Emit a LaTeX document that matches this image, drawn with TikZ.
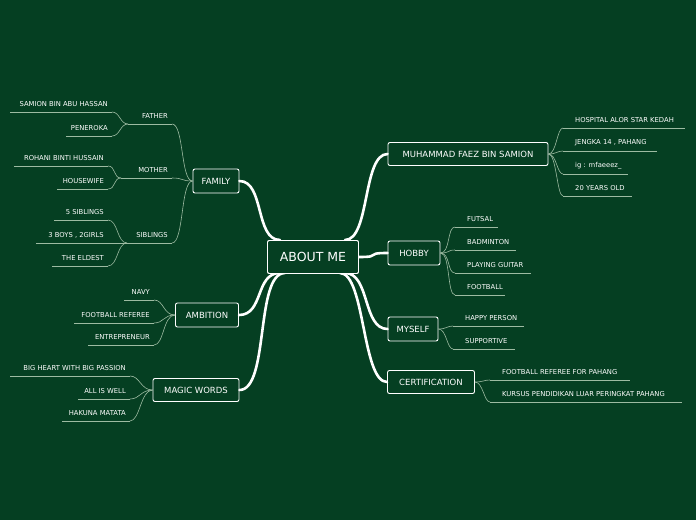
\documentclass[tikz,border=0pt]{standalone}
\usepackage{fontspec}
\setmainfont{DejaVu Sans}
\definecolor{bg}{HTML}{053F22}
\definecolor{ln}{HTML}{9DBBA2}
\begin{document}
\begin{tikzpicture}[x=1pt,y=-1pt,
  topic/.style={draw=white,fill=bg,rounded corners=2pt,text=white,font=\fontsize{8.5}{9}\selectfont,inner sep=0pt,line width=0.9pt},
  leaft/.style={text=white,font=\fontsize{6.8}{7}\selectfont,inner sep=0pt},
  thin/.style={draw=ln,line width=0.6pt},
  thick/.style={draw=white,line width=2.6pt,line cap=round}]
\fill[bg] (0,0) rectangle (696,520);
\useasboundingbox (0,0) rectangle (696,520);
\newcommand\rleaf[5]{\coordinate (#1s) at (#2,#4); \coordinate (#1e) at (#3,#4);
  \draw[thin] (#1s)--(#1e); \node[leaft,anchor=west] (#1) at (#2+12,#4-8) {#5};}
\newcommand\lleaf[5]{\coordinate (#1s) at (#2,#4); \coordinate (#1e) at (#3,#4);
  \draw[thin] (#1s)--(#1e); \node[leaft,anchor=east] (#1) at (#3-4,#4-8) {#5};}
\node[topic,minimum width=91pt,minimum height=33pt,font=\fontsize{12.5}{13}\selectfont] (c) at (313,257) {ABOUT ME};
\node[topic,minimum width=160pt,minimum height=23pt] (m) at (468,154) {MUHAMMAD FAEZ BIN SAMION};
\node[topic,minimum width=52pt,minimum height=24pt] (h) at (414,253) {HOBBY};
\node[topic,minimum width=50pt,minimum height=24pt] (my) at (413,329) {MYSELF};
\node[topic,minimum width=87pt,minimum height=23pt] (ce) at (431,382) {CERTIFICATION};
\node[topic,minimum width=46pt,minimum height=24pt] (f) at (216,181) {FAMILY};
\node[topic,minimum width=63pt,minimum height=24pt] (a) at (207,315) {AMBITION};
\node[topic,minimum width=86pt,minimum height=23pt] (mw) at (196,390) {MAGIC WORDS};
\foreach \t/\sx/\sy in {m/345/240,h/359/257,my/345/273,ce/340/273}{
  \draw[thick] (\sx,\sy) .. controls +(25,0) and +(-25,0) .. (\t.west);}
\draw[thick] (280,240) .. controls +(-25,0) and +(25,0) .. (f.east);
\draw[thick] (280,273) .. controls +(-25,0) and +(25,0) .. (a.east);
\draw[thick] (285,273) .. controls +(-30,0) and +(30,0) .. (mw.east);
\node[topic,minimum width=91pt,minimum height=33pt,font=\fontsize{12.5}{13}\selectfont] at (313,257) {ABOUT ME};
\rleaf{m1}{563}{685}{128}{HOSPITAL ALOR STAR KEDAH}
\rleaf{m2}{563}{657}{151}{JENGKA 14 , PAHANG}
\rleaf{m3}{563}{628}{174}{ig : mfaeeez\_}
\rleaf{m4}{563}{632}{196}{20 YEARS OLD}
\foreach \i in {1,...,4}{\draw[thin] (m.east) .. controls +(8,0) and +(-6,0) .. (m\i s);}
\rleaf{h1}{455}{498}{227}{FUTSAL}
\rleaf{h2}{455}{516}{250}{BADMINTON}
\rleaf{h3}{455}{531}{273}{PLAYING GUITAR}
\rleaf{h4}{455}{505}{295}{FOOTBALL}
\foreach \i in {1,...,4}{\draw[thin] (h.east) .. controls +(10,0) and +(-8,0) .. (h\i s);}
\rleaf{y1}{453}{524}{326}{HAPPY PERSON}
\rleaf{y2}{453}{515}{349}{SUPPORTIVE}
\foreach \i in {1,2}{\draw[thin] (my.east) .. controls +(8,0) and +(-6,0) .. (y\i s);}
\rleaf{c1}{490}{630}{380}{FOOTBALL REFEREE FOR PAHANG}
\rleaf{c2}{490}{682}{402}{KURSUS PENDIDIKAN LUAR PERINGKAT PAHANG}
\foreach \i in {1,2}{\draw[thin] (ce.east) .. controls +(8,0) and +(-6,0) .. (c\i s);}
\lleaf{fa}{128}{172}{124}{FATHER}
\lleaf{mo}{121}{172}{178}{MOTHER}
\lleaf{si}{127}{172}{243}{SIBLINGS}
\foreach \i in {fa,mo,si}{\draw[thin] (f.west) .. controls +(-12,0) and +(12,0) .. (\i e);}
\lleaf{fa1}{10}{112}{112}{SAMION BIN ABU HASSAN}
\lleaf{fa2}{66}{112}{136}{PENEROKA}
\foreach \i in {fa1,fa2}{\draw[thin] (fas) .. controls +(-8,0) and +(8,0) .. (\i e);}
\lleaf{mo1}{14}{108}{166}{ROHANI BINTI HUSSAIN}
\lleaf{mo2}{57}{108}{189}{HOUSEWIFE}
\foreach \i in {mo1,mo2}{\draw[thin] (mos) .. controls +(-8,0) and +(8,0) .. (\i e);}
\lleaf{si1}{54}{108}{220}{5 SIBLINGS}
\lleaf{si2}{36}{108}{243}{3 BOYS , 2GIRLS}
\lleaf{si3}{52}{108}{266}{THE ELDEST}
\foreach \i in {si1,si2,si3}{\draw[thin] (sis) .. controls +(-10,0) and +(10,0) .. (\i e);}
\lleaf{a1}{124}{154}{300}{NAVY}
\lleaf{a2}{74}{154}{323}{FOOTBALL REFEREE}
\lleaf{a3}{88}{154}{345}{ENTREPRENEUR}
\foreach \i in {1,2,3}{\draw[thin] (a.west) .. controls +(-12,0) and +(10,0) .. (a\i e);}
\lleaf{w1}{10}{130}{376}{BIG HEART WITH BIG PASSION}
\lleaf{w2}{78}{130}{399}{ALL IS WELL}
\lleaf{w3}{62}{130}{421}{HAKUNA MATATA}
\foreach \i in {1,2,3}{\draw[thin] (mw.west) .. controls +(-12,0) and +(10,0) .. (w\i e);}
\end{tikzpicture}
\end{document}
